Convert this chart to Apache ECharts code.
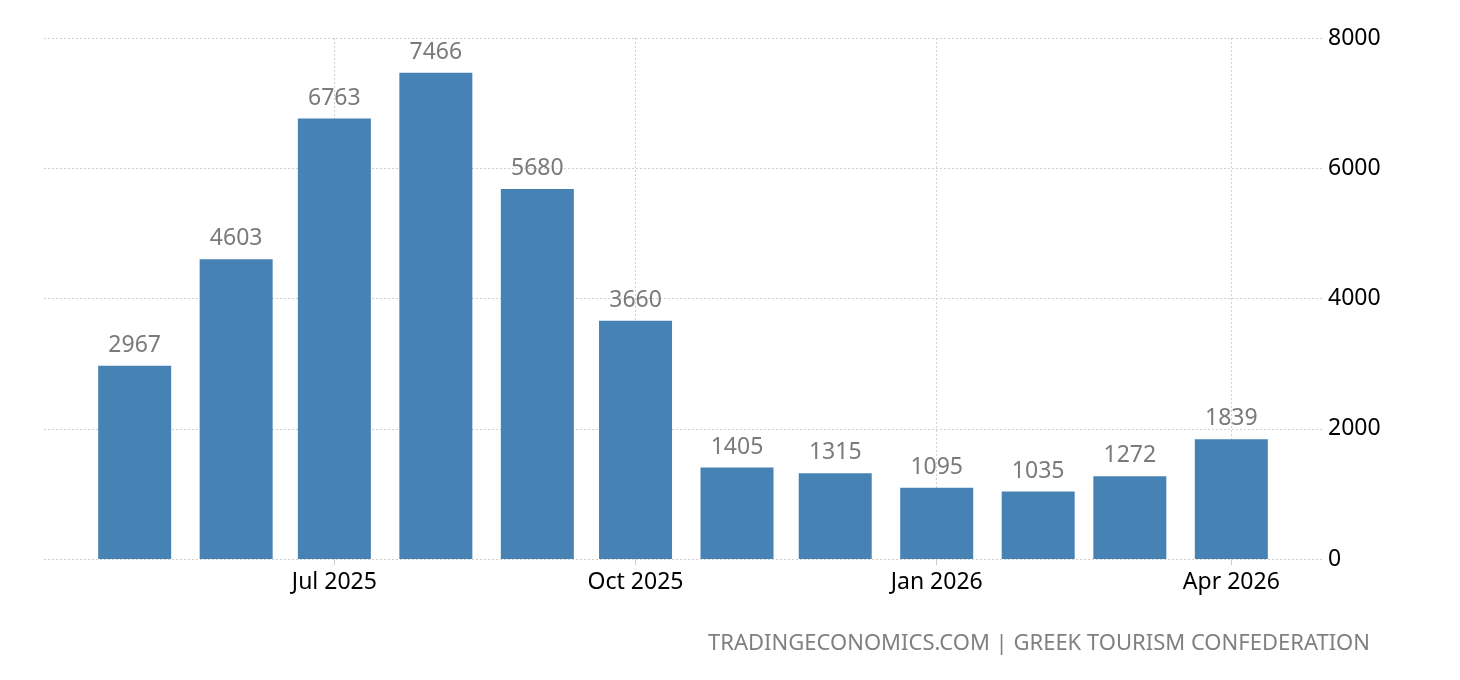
<!DOCTYPE html>
<html>
<head>
<meta charset="utf-8">
<script src="https://cdn.jsdelivr.net/npm/echarts@6/dist/echarts.min.js"></script>
<style>
    html, body { margin: 0; padding: 0; background: #fff; }
    #chart { width: 1460px; height: 680px; }
</style>
</head>
<body>
<div id="chart"></div>
<script type="text/javascript">
    // monthly values, May 2025 .. Apr 2026
    var months = ['2025-05', '2025-06', '2025-07', '2025-08', '2025-09', '2025-10',
        '2025-11', '2025-12', '2026-01', '2026-02', '2026-03', '2026-04'];
    var values = [2967, 4603, 6763, 7466, 5680, 3660, 1405, 1315, 1095, 1035, 1272, 1839];
    var tickMonths = ['2025-07', '2025-10', '2026-01', '2026-04'];
    var monthNames = ['Jan', 'Feb', 'Mar', 'Apr', 'May', 'Jun', 'Jul', 'Aug', 'Sep', 'Oct', 'Nov', 'Dec'];

    function toTime(m) {
        var p = m.split('-');
        return Date.UTC(+p[0], +p[1] - 1, 1);
    }

    var DAY = 86400000;
    var seriesData = months.map(function (m, i) { return [toTime(m), values[i]]; });
    var tickValues = tickMonths.map(toTime);
    var pad = 27.7 * DAY;

    var font = 'Noto Sans';
    var chart = echarts.init(document.getElementById('chart'));
    chart.setOption({
        animation: false,
        grid: { left: 44, right: 138, top: 38, bottom: 121 },
        xAxis: {
            type: 'value',
            min: seriesData[0][0] - pad,
            max: seriesData[seriesData.length - 1][0] + pad,
            axisLine: { show: false },
            axisTick: {
                show: true,
                length: 6,
                customValues: tickValues,
                lineStyle: { color: '#cccccc' }
            },
            axisLabel: {
                customValues: tickValues,
                color: '#000',
                fontFamily: font,
                fontSize: 23,
                margin: 12,
                formatter: function (v) {
                    var d = new Date(v);
                    return monthNames[d.getUTCMonth()] + ' ' + d.getUTCFullYear();
                }
            },
            splitLine: {
                show: true,
                lineStyle: { color: '#d0d0d0', type: [2, 2], width: 1 }
            }
        },
        yAxis: {
            type: 'value',
            position: 'right',
            min: 0,
            max: 8000,
            interval: 2000,
            axisLine: { show: false },
            axisTick: { show: false },
            axisLabel: {
                color: '#000', fontFamily: font, fontSize: 23, margin: 6,
                formatter: function (v) { return String(v); }
            },
            splitLine: { lineStyle: { color: '#d0d0d0', type: [2, 2], width: 1 } }
        },
        series: [{
            type: 'bar',
            data: seriesData,
            barWidth: 73,
            itemStyle: { color: '#4682b4' },
            label: {
                show: true,
                position: 'top',
                distance: 9,
                color: '#7a7a7a',
                fontFamily: font,
                fontSize: 23,
                formatter: function (p) { return p.value[1]; }
            }
        }],
        graphic: [{
            type: 'text',
            right: 90,
            top: 633,
            style: {
                text: 'TRADINGECONOMICS.COM | GREEK TOURISM CONFEDERATION',
                fill: '#808080',
                font: '22px "Noto Sans"'
            }
        }]
    });
</script>
</body>
</html>
